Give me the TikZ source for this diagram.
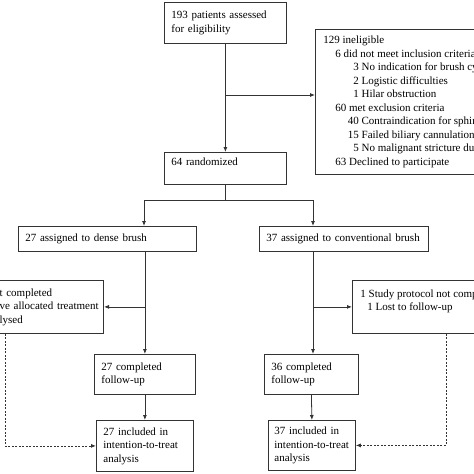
\documentclass[tikz,border=0pt]{standalone}
\usepackage{fontspec}
\setmainfont{Liberation Serif}
\usetikzlibrary{arrows.meta, positioning, calc}

\begin{document}
\begin{tikzpicture}[
    x=1pt, y=-1pt,
    font=\fontsize{11}{13.5}\selectfont,
    box/.style={draw=black!80, line width=0.8pt, anchor=north west, align=left, inner xsep=7pt, inner ysep=0pt},
    link/.style={line width=0.8pt, draw=black!80},
    arr/.style={link, -{Latex[length=5pt, width=4pt]}},
    dotarr/.style={arr, dash pattern=on 2pt off 1.5pt}
    ]
    \useasboundingbox (0,0) rectangle (474,474);
    \clip (0,0) rectangle (474,474);

    % enrolment
    \node[box, text width=108pt, minimum height=41pt] (elig) at (164,2) {193 patients assessed\\for eligibility};
    \node[box, inner xsep=8pt, minimum height=145pt] (inel) at (315,29) {129 ineligible\\
        \hspace*{12pt}6 did not meet inclusion criteria\\
        \hspace*{30pt}3 No indication for brush cytology\\
        \hspace*{30pt}2 Logistic difficulties\\
        \hspace*{30pt}1 Hilar obstruction\\
        \hspace*{12pt}60 met exclusion criteria\\
        \hspace*{24.5pt}40 Contraindication for sphincterotomy\\
        \hspace*{24.5pt}15 Failed biliary cannulation\\
        \hspace*{30pt}5 No malignant stricture due\\
        \hspace*{12pt}63 Declined to participate};
    \node[box, text width=108pt, minimum height=32pt] (rand) at (164,152) {64 randomized\\\mbox{}};

    % allocation
    \node[box, text width=164pt, minimum height=25pt] (dense) at (18,226) {27 assigned to dense brush};
    \node[box, text width=155pt, minimum height=25pt] (conv) at (259,226) {37 assigned to conventional brush};

    % follow-up
    \node[box, anchor=north east, text width=100pt, inner xsep=4pt, minimum height=53pt] (dlost) at (104,280) {t completed\\ve allocated treatment\\lysed};
    \node[box, inner xsep=8pt, minimum height=53pt] (clost) at (352,280) {1 Study protocol not completed\\\hspace*{7pt}1 Lost to follow-up\\\mbox{}};
    \node[box, text width=87pt, minimum height=40pt] (dcomp) at (94,354) {27 completed\\follow-up};
    \node[box, text width=80pt, minimum height=40pt] (ccomp) at (264,354) {36 completed\\follow-up};

    % analysis
    \node[box, text width=83pt, minimum height=51pt] (ditt) at (96,420) {27 included in\\intention-to-treat\\analysis};
    \node[box, text width=75pt, inner xsep=6pt, minimum height=50pt] (citt) at (268,420) {37 included in\\intention-to-treat\\analysis};

    % connectors
    \coordinate (b1) at (226,95);
    \coordinate (dl) at (144,200);
    \coordinate (cl) at (313,200);
    \coordinate (dd) at (5,443);
    \coordinate (cd) at (446,447);
    \draw[arr] (elig.south) -- (rand.north);
    \draw[arr] (b1 -| elig.south) -- (b1 -| inel.west);
    \draw[link] (rand.south) -- (rand.south |- dl);
    \draw[link] (dl) -- (cl);
    \draw[arr] (dl) -- (dl |- dense.north);
    \draw[arr] (cl) -- (cl |- conv.north);
    \draw[arr] (dcomp.north |- dense.south) -- (dcomp.north);
    \draw[arr] (dcomp.north |- dlost.east) -- (dlost.east);
    \draw[arr] (dcomp.south) -- (ditt.north);
    \draw[arr] (cl |- conv.south) -- (cl |- ccomp.north);
    \draw[arr] (cl |- clost.west) -- (clost.west);
    \draw[arr] (ccomp.south) -- (citt.north);
    \draw[dotarr] (dd |- dlost.south) |- (ditt.west);
    \draw[dotarr] (cd |- clost.south) |- (citt.east);
\end{tikzpicture}
\end{document}
